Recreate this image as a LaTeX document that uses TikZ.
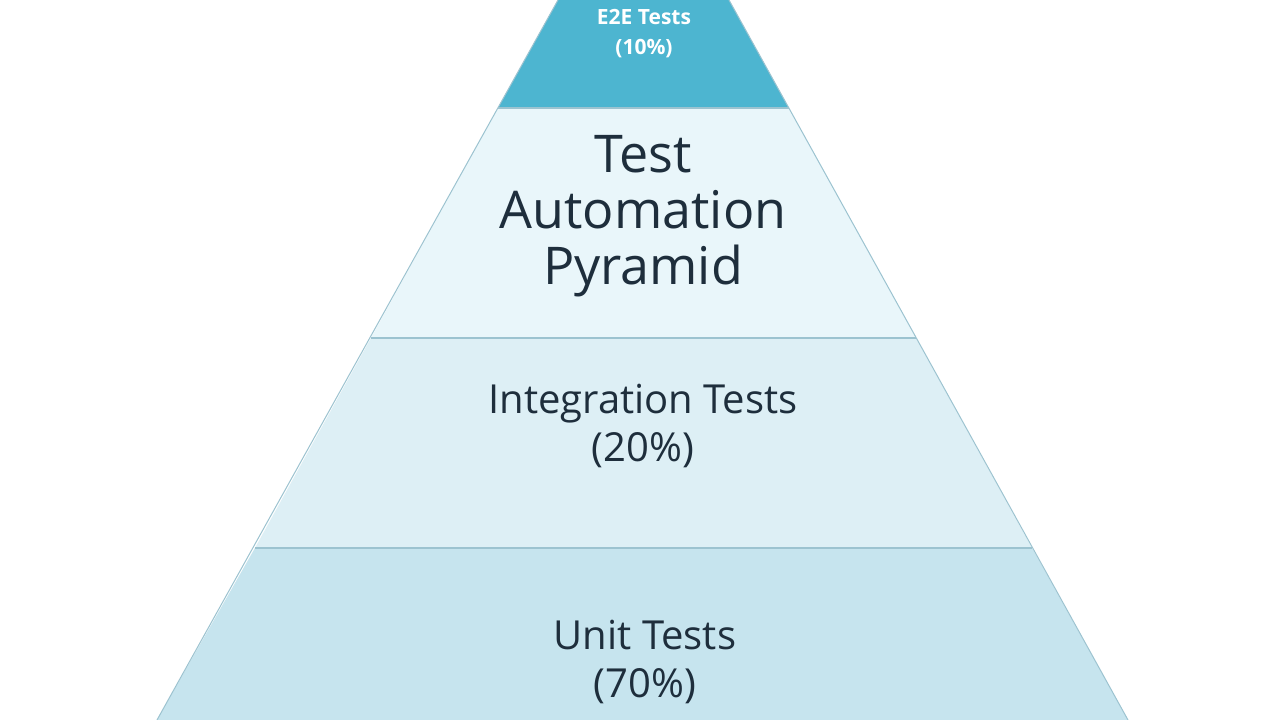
\documentclass[tikz,border=0pt]{standalone}
\usepackage{fontspec}
\setmainfont{Open Sans}
\begin{document}
\begin{tikzpicture}[x=1pt,y=-1pt,
  sep/.style={draw=lineblue,line width=1.2pt},
  lbl/.style={text=textdark,align=center,font=\fontsize{40}{48}\selectfont}]
\definecolor{topc}{HTML}{4DB5D0}
\definecolor{b2}{HTML}{E9F6FA}
\definecolor{b3}{HTML}{DDEFF5}
\definecolor{b4}{HTML}{C6E4EE}
\definecolor{lineblue}{HTML}{9CC3D0}
\definecolor{textdark}{HTML}{1E2E3C}
\useasboundingbox (0,0) rectangle (1280,720);
\fill[white] (0,0) rectangle (1280,720);
\fill[topc] (558,0) -- (729,0) -- (789,108) -- (498,108) -- cycle;
\fill[b2] (498,108) -- (789,108) -- (916,338) -- (371,338) -- cycle;
\fill[b3] (371,338) -- (916,338) -- (1032,548) -- (255,548) -- cycle;
\fill[b4] (255,548) -- (1032,548) -- (1128,720) -- (157,720) -- cycle;
\draw[sep] (498,108) -- (789,108);
\draw[sep] (371,338) -- (916,338);
\draw[sep] (255,548) -- (1032,548);
\draw[lineblue,line width=1pt] (558,0) -- (157,720) (729,0) -- (1128,720);
\node[text=white,align=center,font=\bfseries\fontsize{21}{30}\selectfont] (e2e) at (644,34) {E2E Tests\\(10\%)};
\node[lbl,font=\fontsize{52}{56}\selectfont] (title) at (643,216) {Test\\Automation\\Pyramid};
\node[lbl] (int) at (643,426) {Integration Tests\\(20\%)};
\node[lbl] (unit) at (645,662) {Unit Tests\\(70\%)};
\end{tikzpicture}
\end{document}
